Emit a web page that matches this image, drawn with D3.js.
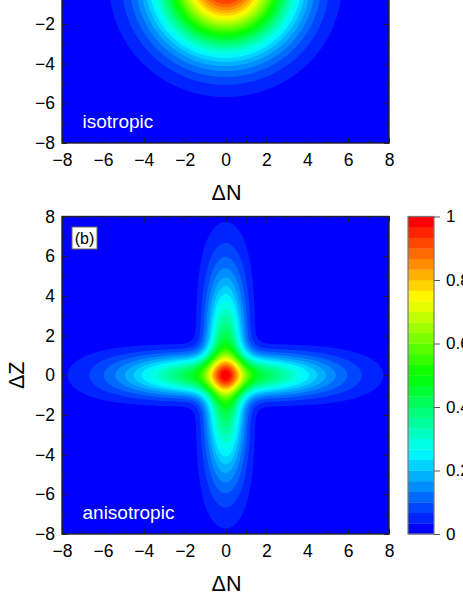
<!DOCTYPE html>
<html>
<head>
<meta charset="utf-8">
<script src="https://cdn.jsdelivr.net/npm/d3@7"></script>
<style>
    body { margin: 0; background: #fff; overflow: hidden; }
    svg { display: block; font-family: "Liberation Sans", Arial, sans-serif; }
</style>
</head>
<body>
<svg id="chart" width="463" height="599"></svg>
<script>
// axis ticks
const majorTicks = [-8, -6, -4, -2, 0, 2, 4, 6, 8]
const minorTicks = [-7, -5, -3, -1, 1, 3, 5, 7]
const barTicks = [0, 0.2, 0.4, 0.6, 0.8, 1]

// contour levels and palette
const bandCount = 30
const rainbowStops = [0, 0.25, 0.5, 0.75, 1]
const rainbowColors = ["#0000ff", "#00ffff", "#00ff00", "#ffff00", "#ff0000"]

// isotropic gaussian width (outer level 1/30 at r ~ 5.7)
const isoSigma = [2.18]
// anisotropic arms: [amplitude, length along arm, width near centre, width at tip]
const armVertical = [0.5, 3.32, 0.63, 0.9]
const armHorizontal = [0.5, 3.32, 0.68, 0.98]

const panelLabels = ["isotropic", "anisotropic"]
const panelTags = ["(a)", "(b)"]

/*
    FIELDS
*/
const isoField = (x, z) => Math.exp(-(x * x + z * z) / (2 * isoSigma[0] * isoSigma[0]))

const arm = (p, along, across) => {
    const w = p[2] + (p[3] - p[2]) * (along / 8) * (along / 8)
    return p[0] * Math.exp(-along * along / (2 * p[1] * p[1])) * Math.exp(-across * across / (2 * w * w))
}

const anisoField = (x, z) => arm(armVertical, z, x) + arm(armHorizontal, x, z)

// sample a field on a regular grid, rows from top (z = 8) to bottom
const n = 321, step = 16 / (n - 1)
const sampleGrid = (f) => {
    const v = new Float64Array(n * n)
    for (let j = 0; j < n; j++) {
        const z = 8 - j * step
        for (let i = 0; i < n; i++) v[j * n + i] = f(-8 + i * step, z)
    }
    return v
}

/*
    LAYOUT
*/
const svg = d3.select("#chart")
const left = 62, W = 327, H = 317.5
const panels = [
    { top: 143 - H, field: isoField, label: panelLabels[0], tag: panelTags[0] },
    { top: 216.5, field: anisoField, label: panelLabels[1], tag: panelTags[1] }
]

const color = d3.scaleLinear().domain(rainbowStops).range(rainbowColors)
const bandColor = (i) => color(i / (bandCount - 1))
const thresholds = d3.range(1, bandCount).map(i => i / bandCount)

const fontTicks = "17.5px"

panels.forEach((p, k) => {
    const x = d3.scaleLinear().domain([-8, 8]).range([left, left + W])
    const y = d3.scaleLinear().domain([-8, 8]).range([p.top + H, p.top])
    // the upper panel is cropped by the page: only label what is on screen
    const onScreen = (v) => y(v) > 5

    const g = svg.append("g")
    const clipId = "clip" + k
    g.append("clipPath").attr("id", clipId)
        .append("rect")
        .attr("x", left).attr("y", p.top).attr("width", W).attr("height", H)

    const plot = g.append("g").attr("clip-path", `url(#${clipId})`)
    plot.append("rect")
        .attr("x", left).attr("y", p.top).attr("width", W).attr("height", H)
        .attr("fill", bandColor(0))

    // contour grid coords -> data -> pixels (grid values sit at index + 0.5)
    const proj = d3.geoTransform({
        point: function (cx, cy) {
            this.stream.point(x(-8 + (cx - 0.5) * step), y(8 - (cy - 0.5) * step))
        }
    })
    const path = d3.geoPath(proj)
    const bands = d3.contours().size([n, n]).thresholds(thresholds)(sampleGrid(p.field))

    plot.selectAll("path.band")
        .data(bands)
        .join("path")
        .attr("class", "band")
        .attr("d", path)
        .attr("fill", (d, i) => bandColor(i + 1))

    // ticks, all pointing inward
    const axes = [
        [d3.axisBottom(x), `translate(0,${p.top + H})`, 10.6, d3.format("d")],
        [d3.axisLeft(y), `translate(${left},0)`, 7, d => onScreen(d) ? d3.format("d")(d) : ""],
        [d3.axisTop(x), `translate(0,${p.top})`, 7, ""],
        [d3.axisRight(y), `translate(${left + W},0)`, 7, ""]
    ]
    axes.forEach(([ax, tr, pad, fmt]) => {
        g.append("g").attr("transform", tr)
            .call(ax.tickValues(minorTicks).tickSize(-3).tickSizeOuter(0).tickFormat(""))
            .call(a => a.select(".domain").remove())
            .call(a => a.selectAll(".tick line").attr("stroke", "#222"))
        g.append("g").attr("transform", tr)
            .call(ax.tickValues(majorTicks).tickSize(-5).tickSizeOuter(0).tickPadding(pad).tickFormat(fmt))
            .call(a => a.select(".domain").remove())
            .call(a => a.selectAll(".tick line").attr("stroke", "#222"))
            .call(a => a.selectAll(".tick text").filter(function () { return this.textContent === "" }).remove())
            .attr("font-family", null)
            .style("font-size", fontTicks)
            .selectAll("text").attr("fill", "#000")
    })

    // frame
    g.append("rect")
        .attr("x", left).attr("y", p.top).attr("width", W).attr("height", H)
        .attr("fill", "none").attr("stroke", "#222").attr("stroke-width", 1.4)

    // in-panel labels
    g.append("text")
        .attr("x", left + 20.5).attr("y", p.top + H - 15)
        .attr("fill", "#fff").style("font-size", "19px")
        .text(p.label)

    if (p.top + 10 > 0) {
        const tagBox = g.append("g").attr("transform", `translate(${left + 10},${p.top + 10.5})`)
        tagBox.append("rect")
            .attr("width", 25).attr("height", 22)
            .attr("fill", "#fff").attr("stroke", "#666").attr("stroke-width", 1)
        tagBox.append("text")
            .attr("x", 12.5).attr("y", 16.5).attr("text-anchor", "middle")
            .style("font-size", "16px").text(p.tag)
    }

    // axis titles
    g.append("text")
        .attr("x", left + W / 2 + 1).attr("y", p.top + H + 57)
        .attr("text-anchor", "middle").style("font-size", "21.5px")
        .text("ΔN")
    if (p.top + H / 2 > 20) {
        g.append("text")
            .attr("transform", `translate(24,${p.top + H / 2}) rotate(-90)`)
            .attr("text-anchor", "middle").style("font-size", "21.5px")
            .text("ΔZ")
    }
})

/*
    COLOR BAR
*/
const barX = 408, barW = 26
const barY = d3.scaleLinear().domain([0, 1]).range([534, 216.5])
const bar = svg.append("g")

bar.selectAll("rect.key")
    .data(d3.range(bandCount))
    .join("rect")
    .attr("class", "key")
    .attr("x", barX)
    .attr("y", i => barY((i + 1) / bandCount))
    .attr("width", barW)
    .attr("height", i => barY(i / bandCount) - barY((i + 1) / bandCount) + 0.3)
    .attr("fill", i => bandColor(i))

bar.append("rect")
    .attr("x", barX).attr("y", barY(1)).attr("width", barW).attr("height", barY(0) - barY(1))
    .attr("fill", "none").attr("stroke", "#777").attr("stroke-width", 1.2)

// labels run past the right edge of the page, as in the source figure
bar.append("g")
    .attr("transform", `translate(${barX + barW},0)`)
    .call(d3.axisRight(barY).tickValues(barTicks).tickSize(6).tickSizeOuter(0).tickPadding(6)
        .tickFormat(d => String(+d.toFixed(1))))
    .call(a => a.select(".domain").remove())
    .call(a => a.selectAll(".tick line").attr("stroke", "#555"))
    .attr("font-family", null)
    .style("font-size", "17px")
    .selectAll("text").attr("fill", "#000")
</script>
</body>
</html>
